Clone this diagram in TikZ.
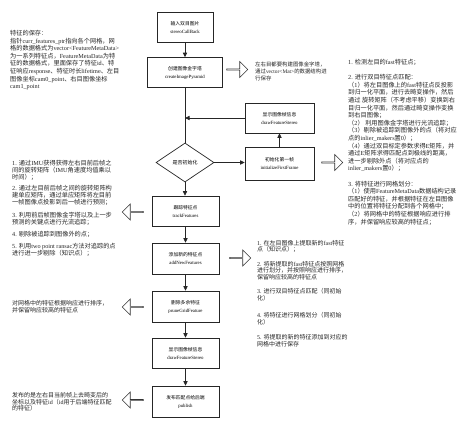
\documentclass[tikz,border=0pt]{standalone}
\usepackage{fontspec}
\setmainfont{Liberation Serif}
\newfontfamily\cjkfam{Noto Sans CJK SC}
\newfontfamily\latfam{Liberation Serif}
\usetikzlibrary{arrows.meta,shapes.geometric,shapes.arrows}
\XeTeXinterchartokenstate=1
\newXeTeXintercharclass\cjkcls
\makeatletter
\count@="3000 \loop\XeTeXcharclass\count@=\cjkcls \advance\count@ 1 \ifnum\count@<"3040 \repeat
\count@="4E00 \loop\XeTeXcharclass\count@=\cjkcls \advance\count@ 1 \ifnum\count@<"A000 \repeat
\count@="FF00 \loop\XeTeXcharclass\count@=\cjkcls \advance\count@ 1 \ifnum\count@<"FFF0 \repeat
\makeatother
\XeTeXinterchartoks 0 \cjkcls = {\cjkfam}
\XeTeXinterchartoks 4095 \cjkcls = {\cjkfam}
\XeTeXinterchartoks \cjkcls 0 = {\latfam}
\XeTeXinterchartoks \cjkcls 4095 = {\latfam}
\tikzset{
  box/.style={draw=black!85, line width=0.7pt, fill=white, inner sep=0pt, align=center,
    font=\fontsize{4.8}{8}\selectfont},
  dia/.style={diamond, draw=black!85, line width=0.7pt, fill=white, inner sep=0pt, aspect=1.49,
    minimum width=58pt, minimum height=39pt, font=\fontsize{5}{6}\selectfont},
  conn/.style={draw=black!85, line width=0.7pt, -{Triangle[length=4.5pt,width=4.2pt]}},
  plain/.style={draw=black!85, line width=0.7pt},
  harrow/.style={single arrow, draw=black!80, line width=0.6pt, fill=white, inner sep=0pt,
    minimum height=21pt, minimum width=16pt, single arrow head extend=4pt, single arrow tip angle=90},
  note/.style={anchor=north west, inner sep=0pt, align=left, text=black!85,
    font=\fontsize{6.2}{7.6}\selectfont},
}
\begin{document}
\begin{tikzpicture}[x=1pt,y=-1pt]
\useasboundingbox (0,0) rectangle (474,432);
\fill[white] (0,0) rectangle (474,432);
% main column
\node[box, minimum width=56pt, minimum height=30pt] (b1) at (185,27) {输入双目图片\\stereoCallBack};
\node[box, minimum width=75pt, minimum height=30pt] (b2) at (185,72.5) {创建图像金字塔\\createImagePyramid};
\node[dia] (d) at (185,162.5) {是否初始化};
\node[box, minimum width=69pt, minimum height=30pt] (dfs) at (279.5,118) {显示图像帧信息\\drawFeatureStereo};
\node[box, minimum width=69pt, minimum height=33pt] (init) at (279.5,163.5) {初始化第一帧\\initializeFirstFrame};
\node[box, minimum width=67pt, minimum height=30pt] (track) at (185.5,211) {跟踪特征点\\trackFeatures};
\node[box, minimum width=67pt, minimum height=31pt] (add) at (185.5,258.5) {添加新的特征点\\addNewFeatures};
\node[box, minimum width=67pt, minimum height=31pt] (prune) at (185.5,306.5) {删除多余特征\\pruneGridFeature};
\node[box, minimum width=67pt, minimum height=30pt] (draw2) at (185.5,353) {显示图像帧信息\\drawFeatureStereo};
\node[box, minimum width=67pt, minimum height=31pt] (pub) at (185.5,401.5) {发布匹配点给后端\\publish};
% connectors
\draw[conn] (b1) -- (b2);
\draw[plain] (b2) -- (d.north);
\draw[conn] (dfs.west) -- (dfs.west -| b2.south);
\draw[conn] (d.east) -- (d.east -| init.west);
\draw[conn] (init) -- (dfs);
\draw[conn] (d.south) -- (d.south |- track.north);
\draw[conn] (track) -- (add);
\draw[conn] (add) -- (prune);
\draw[conn] (prune) -- (draw2);
\draw[conn] (draw2) -- (pub);
% hollow arrows
\node[harrow] (h1) at (237,69.5) {};
\node[harrow] (h2) at (332,162.5) {};
\node[harrow, shape border rotate=180] (h3) at (133,212) {};
\node[harrow] (h4) at (240,258) {};
\node[harrow, shape border rotate=180] (h5) at (133,307) {};
\node[harrow, shape border rotate=180] (h6) at (133,400) {};
% notes
\node[note] (nA) at (10,30) {特征的保存：\\
指针curr\_features\_ptr指向各个网格，网\\
格的数据格式为vector<FeatureMetaData>\\
为一系列特征点，FeatureMetaData为特\\
征的数据格式，里面保存了特征id、特\\
征响应response、特征时长lifetime、左目\\
图像坐标cam0\_point、右目图像坐标\\
cam1\_point};
\node[note, font=\fontsize{5.4}{7}\selectfont] (nB) at (255,62) {左右目都要构建图像金字塔，\\
通过vector<Mat>的数据结构进\\
行保存};
\node[note] (nC) at (348,59) {1. 检测左目的fast特征点；\\[7.6pt]
2. 进行双目特征点匹配：\\
（1）将左目图像上的fast特征点反投影\\
到归一化平面，进行去畸变操作，然后\\
通过 旋转矩阵（不考虑平移）变换到右\\
目归一化平面，然后通过畸变操作变换\\
到右目图像；\\
（2） 利用图像金字塔进行光流追踪；\\
（3）剔除被追踪到图像外的点（将对应\\
点的inlier\_makers置0）；\\
（4）通过双目标定参数求得E矩阵，并\\
通过E矩阵求得匹配点到极线的距离，\\
进一步剔除外点（将对应点的\\
inlier\_makers置0）；\\[7.6pt]
3. 将特征进行网格划分：\\
（1）使用FeatureMetaData数据结构记录\\
匹配好的特征，并根据特征在左目图像\\
中的位置将特征分配到各个网格中；\\
（2）将网格中的特征根据响应进行排\\
序，并保留响应较高的特征点；};
\node[note, font=\fontsize{6.2}{7}\selectfont] (nD) at (12,160) {1. 通过IMU获得获得左右目前后帧之\\
间的旋转矩阵（IMU角速度均值乘以\\
时间）；\\[4pt]
2. 通过左目前后帧之间的旋转矩阵构\\
建单应矩阵，通过单应矩阵将左目前\\
一帧图像点投影到后一帧进行预测；\\[6pt]
3. 利用前后帧图像金字塔以及上一步\\
预测的关键点进行光流追踪；\\[5pt]
4. 剔除被追踪到图像外的点；\\[5pt]
5. 利用two point ransac方法对追踪的点\\
进行进一步剔除（知识点）；};
\node[note, font=\fontsize{6}{6.5}\selectfont] (nE) at (257,240) {1. 在左目图像上提取新的fast特征\\
点（知识点）；\\[8pt]
2. 将新提取的fast特征点按照网格\\
进行划分，并按照响应进行排序，\\
保留响应较高的特征点\\[8pt]
3. 进行双目特征点匹配（同初始\\
化）\\[11pt]
4. 将特征进行网格划分（同初始\\
化）\\[9pt]
5. 将提取的新的特征添加到对应的\\
网格中进行保存};
\node[note, font=\fontsize{6}{7.5}\selectfont] (nF) at (12,300) {对网格中的特征根据响应进行排序，\\
并保留响应较高的特征点};
\node[note, font=\fontsize{6}{6.8}\selectfont] (nG) at (12,392) {发布的是左右目当前帧上去畸变后的\\
坐标以及特征id（id用于后端特征匹配\\
的特征）};
\end{tikzpicture}
\end{document}
